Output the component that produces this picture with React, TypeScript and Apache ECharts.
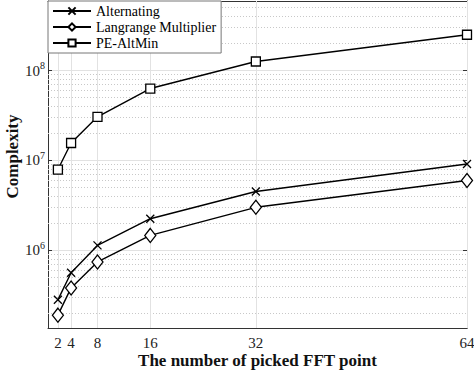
import React, { useEffect, useRef } from "react";
import * as echarts from "echarts";

const xTicks = [2, 4, 8, 16, 32, 64];
const alternating = [2.8e5, 5.6e5, 1.13e6, 2.24e6, 4.5e6, 9.1e6];
const lagrange = [1.89e5, 3.8e5, 7.4e5, 1.46e6, 3.0e6, 5.97e6];
const peAltMin = [7.9e6, 1.56e7, 3.05e7, 6.3e7, 1.26e8, 2.5e8];
const seriesNames = ["Alternating", "Langrange Multiplier", "PE-AltMin"];
const minorGrid = [
  2e5, 3e5, 4e5, 5e5, 6e5, 7e5, 8e5, 9e5,
  2e6, 3e6, 4e6, 5e6, 6e6, 7e6, 8e6, 9e6,
  2e7, 3e7, 4e7, 5e7, 6e7, 7e7, 8e7, 9e7,
  2e8, 3e8, 4e8, 5e8,
];
const X_MIN = 0.5;
const X_MAX = 64;
const Y_MIN = 1.36e5;
const Y_MAX = 5.94e8;

const FONT = "Liberation Serif";
const crossPath = "path://M0,0L10,10M10,0L0,10";

export default function App() {
  const ref = useRef<HTMLDivElement>(null);
  useEffect(() => {
    if (!ref.current) return;
    const chart = echarts.init(ref.current, null, { renderer: "svg" });
    const pairs = (ys: number[]) => xTicks.map((x, i) => [x, ys[i]]);
    const lineCommon = {
      type: "line" as const,
      xAxisIndex: 0,
      yAxisIndex: 0,
      showSymbol: true,
      lineStyle: { color: "#000", width: 1.4 },
      itemStyle: { color: "#fff", borderColor: "#000", borderWidth: 1.3 },
      z: 3,
    };
    const yLabelFmt = (v: number) => {
      const e = Math.log10(v);
      if (Math.abs(e - Math.round(e)) > 1e-6) return "";
      return `{b|10}{s|${Math.round(e)}}`;
    };
    chart.setOption({
      animation: false,
      backgroundColor: "#fff",
      textStyle: { fontFamily: FONT },
      grid: { left: 48, right: 7, top: 1, bottom: 43, outerBoundsMode: "none", containLabel: false },
      legend: {
        orient: "vertical",
        left: 48,
        top: 1,
        data: seriesNames,
        backgroundColor: "#fff",
        borderColor: "#777",
        borderWidth: 1,
        padding: [3, 5, 3, 4],
        itemGap: 2,
        itemWidth: 38,
        itemHeight: 9,
        textStyle: { fontFamily: FONT, fontSize: 14, color: "#000" },
        z: 10,
      },
      xAxis: [
        {
          type: "value",
          min: X_MIN,
          max: X_MAX,
          position: "bottom",
          axisLine: { show: true, lineStyle: { color: "#333", width: 1 } },
          axisTick: { show: true, inside: true, length: 4, customValues: xTicks, lineStyle: { color: "#333" } },
          axisLabel: {
            customValues: xTicks,
            fontFamily: FONT,
            fontSize: 15,
            color: "#222",
            margin: 7,
          },
          splitLine: { show: false },
          name: "The number of picked FFT point",
          nameLocation: "middle",
          nameGap: 24,
          nameMoveOverlap: false,
          nameTextStyle: { fontFamily: FONT, fontSize: 17, fontWeight: "bold", color: "#111" },
        },
        {
          type: "value",
          min: X_MIN,
          max: X_MAX,
          position: "top",
          axisLine: { show: true, lineStyle: { color: "#333", width: 1 } },
          axisTick: { show: true, inside: true, length: 4, customValues: xTicks, lineStyle: { color: "#333" } },
          axisLabel: { show: false },
          splitLine: { show: false },
        },
      ],
      yAxis: [
        {
          type: "log",
          logBase: 10,
          min: Y_MIN,
          max: Y_MAX,
          position: "left",
          axisLine: { show: true, lineStyle: { color: "#333", width: 1 } },
          axisTick: { show: true, inside: true, length: 4, lineStyle: { color: "#333" } },
          axisLabel: {
            formatter: yLabelFmt,
            margin: 3,
            rich: {
              b: { fontFamily: FONT, fontSize: 15, color: "#222" },
              s: { fontFamily: FONT, fontSize: 10, color: "#222", verticalAlign: "top", padding: [0, 0, 10, 0] },
            },
          },
          splitLine: { show: true, lineStyle: { color: "#e2e2e2", width: 1 } },
          name: "Complexity",
          nameLocation: "middle",
          nameGap: 27,
          nameMoveOverlap: false,
          nameTextStyle: { fontFamily: FONT, fontSize: 17, fontWeight: "bold", color: "#111", padding: [0, 0, 0, 16] },
        },
        {
          type: "log",
          logBase: 10,
          min: Y_MIN,
          max: Y_MAX,
          position: "right",
          axisLine: { show: true, lineStyle: { color: "#333", width: 1 } },
          axisTick: { show: true, inside: true, length: 4, lineStyle: { color: "#333" } },
          axisLabel: { show: false },
          splitLine: { show: false },
        },
      ],
      series: [
        {
          name: "grid",
          type: "line",
          xAxisIndex: 0,
          yAxisIndex: 0,
          data: [],
          silent: true,
          markLine: {
            silent: true,
            symbol: "none",
            z: 1,
            label: { show: false },
            animation: false,
            data: [
              ...minorGrid.map((v) => ({ yAxis: v, lineStyle: { type: [1, 2], color: "#c8c8c8", width: 1 } })),
              ...xTicks.map((v) => ({ xAxis: v, lineStyle: { type: "solid", color: "#e2e2e2", width: 1 } })),
            ],
          },
        },
        { ...lineCommon, name: seriesNames[0], symbol: crossPath, symbolSize: 8, data: pairs(alternating) },
        { ...lineCommon, name: seriesNames[1], symbol: "diamond", symbolSize: [11, 14], data: pairs(lagrange) },
        { ...lineCommon, name: seriesNames[2], symbol: "rect", symbolSize: 9, data: pairs(peAltMin) },
      ],
    });
    return () => chart.dispose();
  }, []);
  return <div ref={ref} style={{ width: 474, height: 371, position: "absolute", left: 0, top: 0 }} />;
}
